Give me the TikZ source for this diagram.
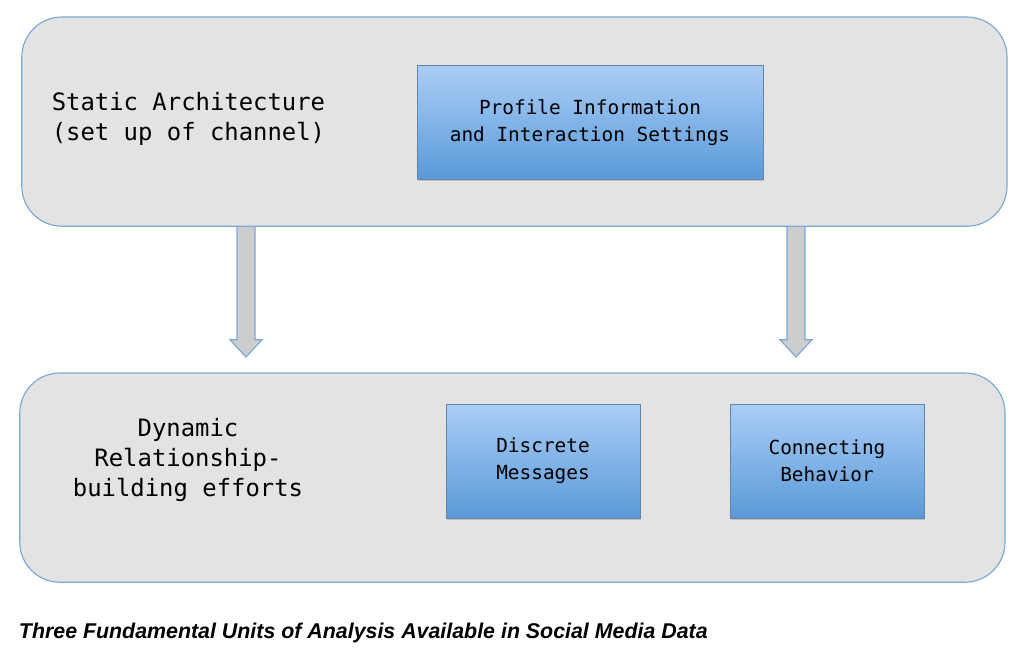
\documentclass[tikz,border=0pt]{standalone}
\usepackage{fontspec}
\setmainfont{Liberation Sans}
\setmonofont{DejaVu Sans Mono}
\usetikzlibrary{calc, shadows}
\definecolor{panelgray}{HTML}{E3E3E3}
\definecolor{panelline}{HTML}{7BA7D6}
\definecolor{boxtop}{HTML}{AACDF6}
\definecolor{boxbot}{HTML}{5A9AD8}
\definecolor{arrowgray}{HTML}{CDCDCD}
\begin{document}
\begin{tikzpicture}[
  panel/.style={draw=panelline, line width=0.8pt, fill=panelgray, rounded corners=1cm,
    minimum width=24.63cm, minimum height=5.23cm},
  unitbox/.style={draw=panelline!80!black, line width=0.5pt, top color=boxtop, bottom color=boxbot,
    drop shadow={shadow xshift=0.3mm, shadow yshift=-0.6mm, opacity=0.35},
    align=center, font=\ttfamily\fontsize{13.8}{19.5}\selectfont},
  label/.style={font=\ttfamily\fontsize{17}{21.3}\selectfont},
  bigarrow/.style={draw=panelline, line width=0.8pt, fill=arrowgray, line join=miter}]
  \useasboundingbox (0,0) rectangle (25.6,-16.775);
  % two panels
  \node[panel] (static) at (12.86,-3.04) {};
  \node[panel] (dynamic) at (12.81,-11.94) {};
  \node[label, anchor=west, align=left] (statictxt) at (1.17,-2.97)
    {Static Architecture\\(set up of channel)};
  \node[label, align=center] (dyntxt) at (4.7,-11.5)
    {Dynamic\\Relationship-\\building efforts};
  % units of analysis
  \node[unitbox, minimum width=8.65cm, minimum height=2.83cm] (profile) at (14.75,-3.06)
    {Profile Information\\and Interaction Settings};
  \node[unitbox, minimum width=4.85cm, minimum height=2.85cm] (messages) at (13.575,-11.525)
    {Discrete\\Messages};
  \node[unitbox, minimum width=4.85cm, minimum height=2.85cm] (connecting) at (20.675,-11.525)
    {Connecting\\Behavior};
  % block arrows
  \coordinate (l1) at ([xshift=-6.71cm]static.south);
  \coordinate (l2) at (6.15,-8.925);
  \coordinate (r1) at ([xshift=7.04cm]static.south);
  \coordinate (r2) at (19.9,-8.925);
  \foreach \a/\b in {l1/l2, r1/r2}{
    \draw[bigarrow] ($(\a)+(-0.225,0)$) -- ($(\b)+(-0.225,0.43)$) -- ($(\b)+(-0.4,0.43)$)
      -- (\b) -- ($(\b)+(0.4,0.43)$) -- ($(\b)+(0.225,0.43)$) -- ($(\a)+(0.225,0)$);
  }
  % caption
  \node[anchor=west, font=\bfseries\itshape\fontsize{15.2}{18}\selectfont] (caption) at (0.35,-15.83)
    {Three Fundamental Units of Analysis Available in Social Media Data};
\end{tikzpicture}
\end{document}
